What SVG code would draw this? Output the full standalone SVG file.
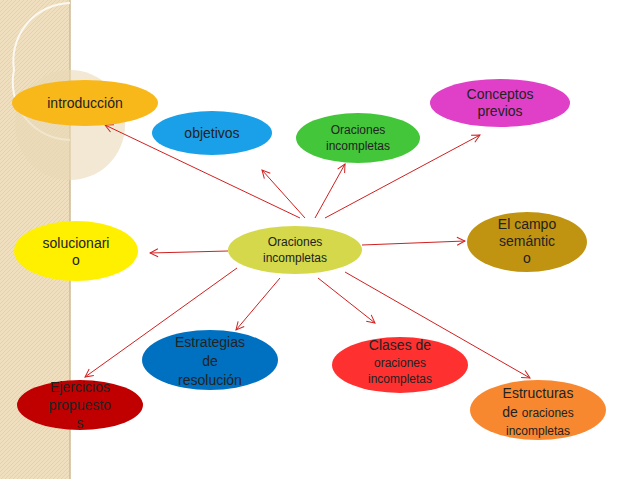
<svg xmlns="http://www.w3.org/2000/svg" width="638" height="479" viewBox="0 0 638 479">
<defs>
<pattern id="pt" width="4" height="4" patternUnits="userSpaceOnUse"><rect width="4" height="4" fill="#EFDFBE"/><path d="M0 4L4 0" stroke="#E6D2A8" stroke-width="1"/></pattern>
<marker id="ah" markerWidth="10" markerHeight="10" refX="9" refY="5" orient="auto" markerUnits="userSpaceOnUse"><path d="M1 1L9 5L1 9" fill="none" stroke="#D02020" stroke-width="1"/></marker>
</defs>
<style>
text{font-family:"Liberation Sans",Arial,sans-serif;text-anchor:middle;fill:#222}
.c line{stroke:#D02020;stroke-width:1;marker-end:url(#ah)}
</style>
<rect width="638" height="479" fill="#fff"/>
<rect x="0" y="0" width="70" height="479" fill="url(#pt)"/>
<line x1="70" y1="0" x2="70" y2="479" stroke="#CDBB95" stroke-width="1.5"/>
<path d="M70 3 A58 58 0 0 0 14 70 A58 58 0 0 0 70 140" fill="none" stroke="#fff" stroke-width="2" opacity="0.8"/>
<circle cx="70" cy="125" r="55" fill="#E9D9B6" opacity="0.6"/>
<g class="c">
<line x1="300" y1="218" x2="105" y2="125"/>
<line x1="305" y1="218" x2="262" y2="170"/>
<line x1="315" y1="218" x2="345" y2="164"/>
<line x1="325" y1="218" x2="480" y2="135"/>
<line x1="228" y1="251" x2="150" y2="253"/>
<line x1="362" y1="245" x2="465" y2="241"/>
<line x1="237" y1="268" x2="85" y2="377"/>
<line x1="280" y1="278" x2="236" y2="330"/>
<line x1="318" y1="278" x2="375" y2="323"/>
<line x1="345" y1="272" x2="530" y2="378"/>
</g>
<g id="introduccion"><ellipse cx="85" cy="103" rx="73" ry="23" fill="#F9B81A"/><text x="85" y="108" font-size="14">introducción</text></g>
<g id="objetivos"><ellipse cx="212" cy="133" rx="60" ry="22" fill="#1AA0E8"/><text x="212" y="138" font-size="14">objetivos</text></g>
<g id="oraciones-top"><ellipse cx="358" cy="138" rx="62" ry="25" fill="#44C63A"/><text x="358" y="134" font-size="12">Oraciones</text><text x="358" y="150" font-size="12">incompletas</text></g>
<g id="conceptos"><ellipse cx="500" cy="103" rx="70" ry="24" fill="#E040C8"/><text x="500" y="99" font-size="14">Conceptos</text><text x="500" y="116" font-size="14">previos</text></g>
<g id="solucionario"><ellipse cx="76" cy="251" rx="62" ry="30" fill="#FFF000"/><text x="76" y="248" font-size="14">solucionari</text><text x="76" y="265" font-size="14">o</text></g>
<g id="centro"><ellipse cx="295" cy="250" rx="67" ry="24" fill="#D4D84A"/><text x="295" y="246" font-size="12">Oraciones</text><text x="295" y="262" font-size="12">incompletas</text></g>
<g id="campo"><ellipse cx="527" cy="242" rx="60" ry="30" fill="#C09410"/><text x="527" y="229" font-size="14">El campo</text><text x="527" y="246" font-size="14">semántic</text><text x="527" y="263" font-size="14">o</text></g>
<g id="estrategias"><ellipse cx="210" cy="360" rx="68" ry="30" fill="#0070C0"/><text x="210" y="347" font-size="14">Estrategias</text><text x="210" y="366" font-size="14">de</text><text x="210" y="385" font-size="14">resolución</text></g>
<g id="clases"><ellipse cx="400" cy="365" rx="68" ry="28" fill="#FF3030"/><text x="400" y="350" font-size="14">Clases de</text><text x="400" y="367" font-size="12">oraciones</text><text x="400" y="383" font-size="12">incompletas</text></g>
<g id="ejercicios"><ellipse cx="80" cy="405" rx="63" ry="25" fill="#C00000"/><text x="80" y="392" font-size="14">Ejercicios</text><text x="80" y="410" font-size="14">propuesto</text><text x="80" y="428" font-size="14">s</text></g>
<g id="estructuras"><ellipse cx="538" cy="410" rx="68" ry="30" fill="#F88830"/><text x="538" y="398" font-size="14">Estructuras</text><text x="538" y="417" font-size="14"><tspan>de </tspan><tspan font-size="12">oraciones</tspan></text><text x="538" y="435" font-size="12">incompletas</text></g>
</svg>
